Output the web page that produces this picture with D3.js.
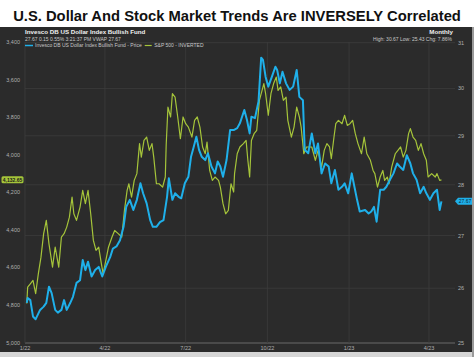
<!DOCTYPE html>
<html><head><meta charset="utf-8">
<script src="https://cdn.jsdelivr.net/npm/d3@7"></script>
<style>body{margin:0;background:#fff;}svg{display:block;}</style>
</head><body><svg id="c" width="474" height="357"></svg>
<script>
const chartTitle = "U.S. Dollar And Stock Market Trends Are INVERSELY Correlated";
const fundName = "Invesco DB US Dollar Index Bullish Fund";
const quoteLine = "27.67 0.15 0.55% 3:21:37 PM VWAP 27.67";
const periodLabel = "Monthly";
const statsLine = "High: 30.67 Low: 25.43 Chg: 7.86%";
const seriesNames = ["Invesco DB US Dollar Index Bullish Fund - Price", "S&P 500 - INVERTED"];

const usdDates = ["2022-01-03","2022-01-04","2022-01-07","2022-01-10","2022-01-13","2022-01-18","2022-01-22","2022-01-25","2022-01-28","2022-01-31",
"2022-02-04","2022-02-07","2022-02-11","2022-02-14","2022-02-17","2022-02-21","2022-02-24","2022-02-28","2022-03-04","2022-03-07",
"2022-03-10","2022-03-13","2022-03-17","2022-03-21","2022-03-25","2022-03-29","2022-04-02","2022-04-07","2022-04-10","2022-04-14",
"2022-04-18","2022-04-22","2022-04-25","2022-04-29","2022-05-03","2022-05-07","2022-05-11","2022-05-14","2022-05-18","2022-05-22",
"2022-05-25","2022-05-29","2022-06-02","2022-06-06","2022-06-10","2022-06-12","2022-06-16","2022-06-19","2022-06-23","2022-06-26",
"2022-06-30","2022-07-04","2022-07-07","2022-07-10","2022-07-13","2022-07-16","2022-07-19","2022-07-23","2022-07-26","2022-07-30",
"2022-08-03","2022-08-06","2022-08-09","2022-08-12","2022-08-16","2022-08-20","2022-08-24","2022-08-28","2022-08-31","2022-09-05",
"2022-09-08","2022-09-11","2022-09-13","2022-09-17","2022-09-21","2022-09-24","2022-09-26","2022-09-29","2022-10-02","2022-10-06",
"2022-10-10","2022-10-12","2022-10-15","2022-10-18","2022-10-22","2022-10-26","2022-10-30","2022-11-03","2022-11-06","2022-11-10",
"2022-11-12","2022-11-16","2022-11-20","2022-11-24","2022-11-27","2022-12-01","2022-12-05","2022-12-09","2022-12-12","2022-12-16",
"2022-12-20","2022-12-24","2022-12-27","2022-12-31","2023-01-04","2023-01-07","2023-01-10","2023-01-13","2023-01-19","2023-01-23",
"2023-01-26","2023-01-29","2023-02-01","2023-02-05","2023-02-09","2023-02-12","2023-02-16","2023-02-20","2023-02-24","2023-02-27",
"2023-03-03","2023-03-07","2023-03-11","2023-03-14","2023-03-18","2023-03-22","2023-03-26","2023-03-29","2023-04-02","2023-04-06",
"2023-04-10","2023-04-13","2023-04-15"];
const usdValues = [25.73,25.82,25.78,25.48,25.43,25.60,25.66,25.73,26.03,25.91,
25.60,25.55,25.60,25.78,25.60,25.73,25.84,26.10,26.15,26.53,
26.34,26.50,26.22,26.34,26.40,26.22,26.40,26.59,26.75,26.79,
26.91,27.17,27.56,27.70,27.50,27.70,28.03,27.83,27.63,27.30,
27.17,27.17,27.26,27.30,27.76,28.13,27.70,27.83,27.76,27.73,
28.03,28.16,28.57,28.77,28.98,28.71,28.57,28.50,28.64,28.37,
28.23,28.47,28.37,28.16,28.50,29.12,29.12,29.16,29.26,29.54,
29.33,29.05,29.40,29.37,29.72,30.67,30.62,30.25,30.04,30.25,
30.47,30.40,30.11,30.36,30.11,29.97,30.04,30.40,29.82,29.75,
28.71,28.64,29.05,28.64,28.84,28.23,28.43,28.37,28.03,28.30,
27.90,27.96,28.03,27.83,28.23,27.96,27.70,27.47,27.50,27.43,
27.47,27.56,27.27,27.90,27.90,27.96,28.10,28.23,28.43,28.37,
28.30,28.60,28.43,28.23,28.10,27.83,27.96,27.83,27.70,27.83,
27.90,27.50,27.67];

const spxDates = ["2022-01-03","2022-01-04","2022-01-07","2022-01-10","2022-01-13","2022-01-16","2022-01-19","2022-01-22","2022-01-25","2022-01-28",
"2022-02-01","2022-02-04","2022-02-08","2022-02-11","2022-02-14","2022-02-17","2022-02-20","2022-02-23","2022-02-25","2022-02-28",
"2022-03-04","2022-03-07","2022-03-10","2022-03-13","2022-03-16","2022-03-19","2022-03-22","2022-03-25","2022-03-28","2022-03-30",
"2022-04-02","2022-04-05","2022-04-09","2022-04-12","2022-04-16","2022-04-20","2022-04-23","2022-04-26","2022-04-28","2022-05-01",
"2022-05-04","2022-05-07","2022-05-10","2022-05-12","2022-05-15","2022-05-18","2022-05-21","2022-05-24","2022-05-26","2022-05-29",
"2022-06-01","2022-06-05","2022-06-08","2022-06-09","2022-06-11","2022-06-14","2022-06-16","2022-06-19","2022-06-22","2022-06-25",
"2022-06-28","2022-07-01","2022-07-04","2022-07-08","2022-07-11","2022-07-14","2022-07-17","2022-07-20","2022-07-23","2022-07-25",
"2022-07-28","2022-07-31","2022-08-03","2022-08-07","2022-08-09","2022-08-12","2022-08-15","2022-08-18","2022-08-21","2022-08-24",
"2022-08-25","2022-08-28","2022-08-31","2022-09-04","2022-09-07","2022-09-09","2022-09-11","2022-09-13","2022-09-16","2022-09-19",
"2022-09-22","2022-09-25","2022-09-27","2022-09-29","2022-10-02","2022-10-05","2022-10-08","2022-10-11","2022-10-13","2022-10-16",
"2022-10-19","2022-10-22","2022-10-24","2022-10-28","2022-10-31","2022-11-03","2022-11-06","2022-11-08","2022-11-11","2022-11-14",
"2022-11-16","2022-11-20","2022-11-24","2022-11-27","2022-12-01","2022-12-04","2022-12-07","2022-12-10","2022-12-12","2022-12-15",
"2022-12-17","2022-12-20","2022-12-24","2022-12-27","2022-12-30","2023-01-02","2023-01-05","2023-01-08","2023-01-11","2023-01-15",
"2023-01-18","2023-01-21","2023-01-25","2023-01-28","2023-01-30","2023-02-02","2023-02-05","2023-02-08","2023-02-10","2023-02-13",
"2023-02-15","2023-02-18","2023-02-22","2023-02-25","2023-02-28","2023-03-03","2023-03-06","2023-03-09","2023-03-11","2023-03-14",
"2023-03-17","2023-03-20","2023-03-23","2023-03-26","2023-03-29","2023-03-31","2023-04-04","2023-04-08","2023-04-10","2023-04-13",
"2023-04-15"];
const spxValues = [4792,4705,4687,4669,4740,4634,4545,4420,4349,4474,
4598,4492,4598,4438,4420,4385,4332,4225,4314,4349,
4278,4189,4260,4189,4314,4456,4509,4492,4580,4634,
4563,4492,4438,4403,4420,4438,4296,4189,4154,4225,
4136,4100,3940,4012,3923,3905,3976,3940,4012,4154,
4154,4172,4118,3949,3745,3798,3674,3692,3798,3914,
3798,3834,3852,3905,3816,3798,3852,3958,3994,3932,
4083,4136,4118,4136,4172,4260,4314,4296,4154,4198,
4100,3994,3958,3940,3923,4029,4118,3923,3887,3869,
3709,3656,3620,3674,3789,3674,3620,3585,3656,3638,
3709,3692,3816,3905,3852,3745,3798,3852,3994,3958,
3958,3958,4029,3976,4065,3976,3940,3958,4020,3905,
3834,3816,3834,3789,3843,3834,3816,3887,3940,3994,
3905,3994,4029,4083,4100,4172,4118,4083,4136,4118,
4154,4065,3994,3976,3958,4012,3976,3887,3860,3905,
3923,3976,3940,3994,4029,4118,4100,4118,4100,4136,
4133];

const leftTicks = [3400,3600,3800,4000,4200,4400,4600,4800,5000];
const rightTicks = [25,26,27,28,29,30,31];
const xTickDates = ["2022-01-01","2022-04-01","2022-07-01","2022-10-01","2023-01-01","2023-04-01"];
const xTickLabels = ["1/22","4/22","7/22","10/22","1/23","4/23"];
const lastSpx = "4,132.65";
const lastUsd = "27.67";

const parse = d3.utcParse("%Y-%m-%d");
const svg = d3.select("#c");
const W = 474, H = 357;
const FONT = "'Liberation Sans', Arial, sans-serif";
const blue = "#1fb0ea", green = "#a5c43a";

svg.append("rect").attr("width", W).attr("height", H).attr("fill", "#ffffff");
svg.append("rect").attr("x", 0).attr("y", 352).attr("width", W).attr("height", 5).attr("fill", "#d6d6d6");
svg.append("rect").attr("x", 0).attr("y", 27).attr("width", 472).attr("height", 325).attr("fill", "#2b2b2b");
svg.append("rect").attr("x", 472).attr("y", 27).attr("width", 2).attr("height", 330).attr("fill", "#9a9a9a");

const t = svg.append("text").attr("x", W / 2).attr("y", 21).attr("text-anchor", "middle")
  .attr("font-family", FONT).attr("font-weight", "bold").attr("font-size", 18).attr("fill", "#111")
  .text(chartTitle);
const tw = t.node().getComputedTextLength();
t.attr("font-size", Math.min(18, 18 * 448 / tw));

const x = d3.scaleUtc().domain([parse("2022-01-01"), parse("2023-04-01")]).range([25, 429]);
const yR = d3.scaleLog().domain([25, 31]).range([343, 42.7]);
const yL = d3.scaleLinear().domain([3400, 5000]).range([42.3, 342.5]);

const g = svg.append("g");
g.selectAll("line.h").data(rightTicks).join("line")
  .attr("x1", 25).attr("x2", 455).attr("y1", d => yR(d)).attr("y2", d => yR(d))
  .attr("stroke", d => d === 25 ? "#6a6a6a" : "#3c3c3c").attr("stroke-width", d => d === 25 ? 1.2 : 0.8);
g.selectAll("line.v").data(xTickDates).join("line")
  .attr("x1", d => x(parse(d))).attr("x2", d => x(parse(d))).attr("y1", 42).attr("y2", 343)
  .attr("stroke", "#3c3c3c").attr("stroke-width", 0.8);

svg.append("g").selectAll("text").data(leftTicks).join("text")
  .attr("x", 20).attr("y", d => yL(d) + 2).attr("text-anchor", "end")
  .attr("font-family", FONT).attr("font-size", 5.5).attr("fill", "#b0b0b0")
  .text(d => d3.format(",")(d));
svg.append("g").selectAll("text").data(rightTicks).join("text")
  .attr("x", 458).attr("y", d => yR(d) + 2).attr("text-anchor", "start")
  .attr("font-family", FONT).attr("font-size", 5.5).attr("fill", "#b0b0b0")
  .text(d => d);
svg.append("g").selectAll("text").data(xTickDates).join("text")
  .attr("x", d => x(parse(d))).attr("y", 350).attr("text-anchor", "middle")
  .attr("font-family", FONT).attr("font-size", 5.5).attr("fill", "#b0b0b0")
  .text((d, i) => xTickLabels[i]);

const spx = spxDates.map((d, i) => ({ date: parse(d), v: spxValues[i] }));
const usd = usdDates.map((d, i) => ({ date: parse(d), v: usdValues[i] }));
svg.append("path").datum(spx).attr("fill", "none").attr("stroke", green).attr("stroke-width", 1.2)
  .attr("stroke-linejoin", "round")
  .attr("d", d3.line().x(d => x(d.date)).y(d => yL(d.v)));
svg.append("path").datum(usd).attr("fill", "none").attr("stroke", blue).attr("stroke-width", 2)
  .attr("stroke-linejoin", "round")
  .attr("d", d3.line().x(d => x(d.date)).y(d => yR(d.v)));

svg.append("text").attr("x", 25).attr("y", 33.5).attr("font-family", FONT).attr("font-weight", "bold")
  .attr("font-size", 6.2).attr("fill", "#f0f0f0").text(fundName);
svg.append("text").attr("x", 25).attr("y", 40.5).attr("font-family", FONT)
  .attr("font-size", 5).attr("fill", "#c8c8c8").text(quoteLine);
svg.append("text").attr("x", 453).attr("y", 33.5).attr("text-anchor", "end").attr("font-family", FONT).attr("font-weight", "bold")
  .attr("font-size", 6.2).attr("fill", "#f0f0f0").text(periodLabel);
svg.append("text").attr("x", 452).attr("y", 40.5).attr("text-anchor", "end").attr("font-family", FONT)
  .attr("font-size", 5).attr("fill", "#c8c8c8").text(statsLine);

const leg = svg.append("g");
leg.append("line").attr("x1", 25).attr("x2", 33).attr("y1", 45.5).attr("y2", 45.5).attr("stroke", blue).attr("stroke-width", 1.5);
const lt1 = leg.append("text").attr("x", 35).attr("y", 47.3).attr("font-family", FONT).attr("font-size", 5)
  .attr("fill", "#c8c8c8").text(seriesNames[0]);
const w1 = lt1.node().getComputedTextLength();
leg.append("line").attr("x1", 35 + w1 + 3).attr("x2", 35 + w1 + 10).attr("y1", 45.5).attr("y2", 45.5).attr("stroke", green).attr("stroke-width", 1.2);
leg.append("text").attr("x", 35 + w1 + 12.5).attr("y", 47.3).attr("font-family", FONT).attr("font-size", 5)
  .attr("fill", "#c8c8c8").text(seriesNames[1]);

const ys = yL(spxValues[spxValues.length - 1]);
svg.append("rect").attr("x", 1.5).attr("y", ys - 3.5).attr("width", 22).attr("height", 7).attr("rx", 1.5).attr("fill", green);
svg.append("text").attr("x", 12.5).attr("y", ys + 1.8).attr("text-anchor", "middle").attr("font-family", FONT)
  .attr("font-weight", "bold").attr("font-size", 5).attr("fill", "#1a1a1a").text(lastSpx);
const yu = yR(usdValues[usdValues.length - 1]);
svg.append("path").attr("fill", blue)
  .attr("d", `M455,${yu} L458,${yu - 3.5} L472,${yu - 3.5} L472,${yu + 3.5} L458,${yu + 3.5} Z`);
svg.append("text").attr("x", 465).attr("y", yu + 1.8).attr("text-anchor", "middle").attr("font-family", FONT)
  .attr("font-size", 5).attr("fill", "#0b2a3a").text(lastUsd);
</script></body></html>
